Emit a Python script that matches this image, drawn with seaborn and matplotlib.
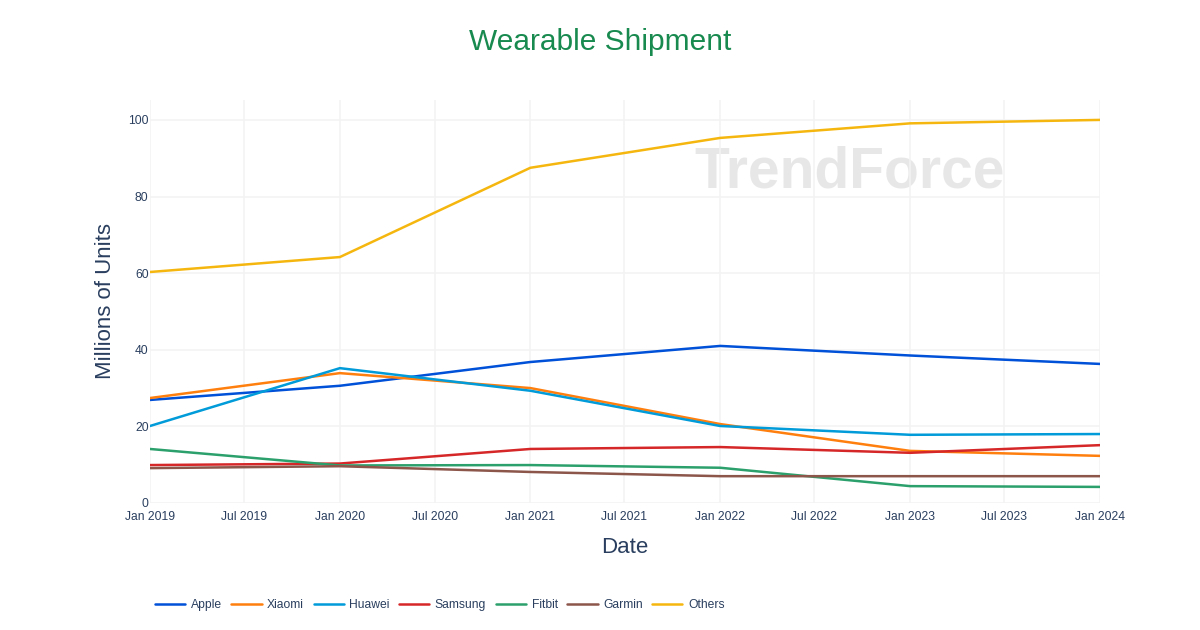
import pandas as pd
import numpy as np
import seaborn as sns
import matplotlib.pyplot as plt
import matplotlib.dates as mdates

# data (millions of units)
dates = ["2019-01-01", "2020-01-01", "2021-01-01", "2022-01-01", "2023-01-01", "2024-01-01"]
apple = [26.9, 30.6, 36.8, 41.0, 38.5, 36.3]
xiaomi = [27.4, 33.9, 30.0, 20.6, 13.6, 12.3]
huawei = [20.1, 35.2, 29.3, 20.1, 17.8, 18.0]
samsung = [9.9, 10.3, 14.1, 14.6, 13.1, 15.1]
fitbit = [14.1, 9.8, 9.9, 9.2, 4.4, 4.2]
garmin = [9.1, 9.6, 8.1, 7.0, 7.0, 7.0]
others = [60.3, 64.2, 87.5, 95.3, 99.1, 100.0]

brands = ["Apple", "Xiaomi", "Huawei", "Samsung", "Fitbit", "Garmin", "Others"]
colors = ["#0050d8", "#ff7f0e", "#009bd8", "#d62728", "#2ca06c", "#8c564b", "#f5b70f"]
series = [apple, xiaomi, huawei, samsung, fitbit, garmin, others]

rows = []
for b, vals in zip(brands, series):
    for d, v in zip(dates, vals):
        rows.append({"Date": pd.Timestamp(d), "Units": v, "Brand": b})
df = pd.DataFrame(rows)

sns.set_theme(style="white")
plt.rcParams['font.family'] = ['Liberation Sans', 'DejaVu Sans']
text_color = "#2a3f5f"

fig = plt.figure(figsize=(12, 6.3), dpi=100)
ax = fig.add_axes([0.125, 0.2016, 0.7917, 0.6397])

sns.lineplot(data=df, x="Date", y="Units", hue="Brand", hue_order=brands,
             palette=colors, linewidth=1.8, ax=ax, legend=True)

ax.set_xlim(pd.Timestamp("2019-01-01"), pd.Timestamp("2024-01-01"))
ax.set_ylim(0, 105.2)
ax.set_yticks([0, 20, 40, 60, 80, 100])
ax.xaxis.set_major_locator(mdates.MonthLocator(bymonth=[1, 7]))
ax.xaxis.set_major_formatter(mdates.DateFormatter("%b %Y"))
ax.grid(True, color="#f3f3f3", linewidth=1.2)
ax.set_axisbelow(True)
for s in ax.spines.values():
    s.set_visible(False)
ax.tick_params(axis="both", length=0, labelsize=8.7, colors=text_color)
ax.tick_params(axis="x", pad=6)
ax.tick_params(axis="y", pad=1)

ax.set_xlabel("Date", fontsize=16, color=text_color, labelpad=10)
ax.set_ylabel("Millions of Units", fontsize=16, color=text_color, labelpad=9)

fig.text(0.5, 0.933, "Wearable Shipment", ha="center", va="center",
         fontsize=21.5, color="#188a4f")

# watermark
ax.text(0.573, 0.821, "TrendForce", transform=ax.transAxes, fontsize=41,
        fontweight="bold", color="#e2e2e2", alpha=0.8, ha="left", va="center", zorder=0)

handles, labels = ax.get_legend_handles_labels()
ax.legend(handles, labels, loc="lower left", bbox_to_anchor=(0.12, 0.013),
          bbox_transform=fig.transFigure, ncol=7, frameon=False, fontsize=8.7,
          handlelength=2.5, columnspacing=0.8, handletextpad=0.45,
          labelcolor=text_color)

fig.savefig("out.png", dpi=100)
